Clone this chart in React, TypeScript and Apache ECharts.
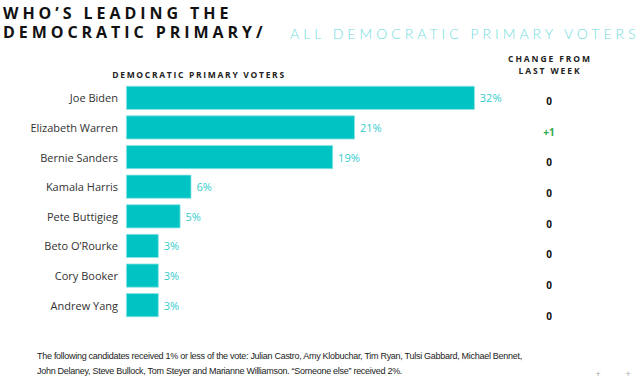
import React, { useEffect, useRef } from "react";
import * as echarts from "echarts";

const candidates = [
  "Joe Biden",
  "Elizabeth Warren",
  "Bernie Sanders",
  "Kamala Harris",
  "Pete Buttigieg",
  "Beto O’Rourke",
  "Cory Booker",
  "Andrew Yang",
];
const support = [32, 21, 19, 6, 5, 3, 3, 3];
const changeFromLastWeek = ["0", "+1", "0", "0", "0", "0", "0", "0"];

const titleLine1 = "WHO’S LEADING THE";
const titleLine2 = "DEMOCRATIC PRIMARY/";
const subtitle = "ALL DEMOCRATIC PRIMARY VOTERS";
const barHeader = "DEMOCRATIC PRIMARY VOTERS";
const changeHeader1 = "CHANGE FROM";
const changeHeader2 = "LAST WEEK";
const footLine1 =
  "The following candidates received 1% or less of the vote: Julian Castro, Amy Klobuchar, Tim Ryan, Tulsi Gabbard, Michael Bennet,";
const footLine2 =
  "John Delaney, Steve Bullock, Tom Steyer and Marianne Williamson. “Someone else” received 2%.";

const spacing: Record<string, string> = {
  [titleLine1]: "3.95px",
  [titleLine2]: "3.95px",
  [subtitle]: "4px",
  [barHeader]: "1.7px",
  [changeHeader1]: "1.9px",
  [changeHeader2]: "1.9px",
  [footLine1]: "-0.28px",
  [footLine2]: "-0.28px",
};

const BAR = "#00c4c4";
const LABEL = "#33cccc";
const SANS = "'Open Sans', 'Noto Sans', sans-serif";
const FOOT = "'Liberation Sans', sans-serif";

export default function App() {
  const ref = useRef<HTMLDivElement>(null);
  useEffect(() => {
    if (!ref.current) return;
    const chart = echarts.init(ref.current, undefined, { renderer: "svg" });
    const headerStyle = (text: string, size: number) => ({
      text,
      fontSize: size,
      fontWeight: "bold",
      fill: "#222222",
      align: "center",
      verticalAlign: "middle",
      lineHeight: 10,
      fontFamily: SANS,
    });
    chart.setOption({
      animation: false,
      backgroundColor: "#ffffff",
      grid: [
        { left: 126, width: 436, top: 83, height: 237 },
        { left: 549, width: 10, top: 85.6, height: 245.6 },
      ],
      xAxis: [
        { type: "value", gridIndex: 0, min: 0, max: 40, show: false },
        { type: "value", gridIndex: 1, min: 0, max: 1, show: false },
      ],
      yAxis: [
        {
          type: "category",
          gridIndex: 0,
          inverse: true,
          data: candidates,
          axisLine: { show: false },
          axisTick: { show: false },
          splitLine: { show: false },
          axisLabel: {
            margin: 8,
            fontSize: 11,
            color: "#333333",
            fontFamily: SANS,
          },
        },
        {
          type: "category",
          gridIndex: 1,
          inverse: true,
          data: candidates,
          axisLine: { show: false },
          axisTick: { show: false },
          splitLine: { show: false },
          axisLabel: {
            margin: 0,
            align: "center",
            fontSize: 10,
            fontWeight: "bold",
            fontFamily: SANS,
            formatter: (_v: string, i: number) => {
              const c = changeFromLastWeek[i];
              return c.startsWith("+") ? `{up|${c}}` : `{flat|${c}}`;
            },
            rich: {
              up: { color: "#2eaa4a", fontSize: 10, fontWeight: "bold", fontFamily: SANS },
              flat: { color: "#111111", fontSize: 10, fontWeight: "bold", fontFamily: SANS },
            },
          },
        },
      ],
      series: [
        {
          type: "bar",
          xAxisIndex: 0,
          yAxisIndex: 0,
          data: support,
          barCategoryGap: "19%",
          itemStyle: { color: BAR, borderColor: "#8fe3e3", borderWidth: 0.8 },
          label: {
            show: true,
            position: "right",
            distance: 5,
            formatter: "{c}%",
            color: LABEL,
            fontSize: 11,
            fontFamily: SANS,
          },
          silent: true,
        },
        {
          type: "scatter",
          xAxisIndex: 1,
          yAxisIndex: 1,
          data: [],
          silent: true,
        },
      ],
      graphic: [
        {
          type: "text",
          x: 3,
          y: 12.8,
          style: {
            text: titleLine1,
            fontSize: 16,
            fontWeight: "bold",
            fill: "#111111",
            verticalAlign: "middle",
            lineHeight: 16,
            fontFamily: SANS,
          },
        },
        {
          type: "text",
          x: 3,
          y: 31.8,
          style: {
            text: titleLine2,
            fontSize: 16,
            fontWeight: "bold",
            fill: "#111111",
            verticalAlign: "middle",
            lineHeight: 16,
            fontFamily: SANS,
          },
        },
        {
          type: "text",
          x: 290,
          y: 33,
          style: {
            text: subtitle,
            fontSize: 14,
            fontWeight: 300,
            fill: "#6fdcdc",
            verticalAlign: "middle",
            fontFamily: "Lato, 'Open Sans', sans-serif",
          },
        },
        { type: "text", x: 199, y: 74, style: headerStyle(barHeader, 8.5) },
        { type: "text", x: 550, y: 58, style: headerStyle(changeHeader1, 8.5) },
        { type: "text", x: 550, y: 70, style: headerStyle(changeHeader2, 8.5) },
        {
          type: "text",
          x: 37,
          y: 356,
          style: {
            text: footLine1,
            fontSize: 9,
            fill: "#222222",
            verticalAlign: "middle",
            fontFamily: FOOT,
          },
        },
        {
          type: "text",
          x: 37,
          y: 371,
          style: {
            text: footLine2,
            fontSize: 9,
            fill: "#222222",
            verticalAlign: "middle",
            fontFamily: FOOT,
          },
        },
        {
          type: "text",
          x: 598,
          y: 374,
          style: { text: "+", fontSize: 9, fill: "#aaaaaa", align: "center", verticalAlign: "middle" },
        },
        {
          type: "text",
          x: 628,
          y: 374,
          style: { text: "+", fontSize: 9, fill: "#aaaaaa", align: "center", verticalAlign: "middle" },
        },
      ],
    });
    const applySpacing = () => {
      ref.current?.querySelectorAll("text").forEach((t) => {
        const s = spacing[(t.textContent || "").trim()];
        if (s) t.setAttribute("letter-spacing", s);
      });
    };
    applySpacing();
    chart.on("finished", applySpacing);
    return () => chart.dispose();
  }, []);
  return (
    <div
      ref={ref}
      style={{ position: "fixed", left: 0, top: 0, width: 640, height: 380 }}
    />
  );
}
